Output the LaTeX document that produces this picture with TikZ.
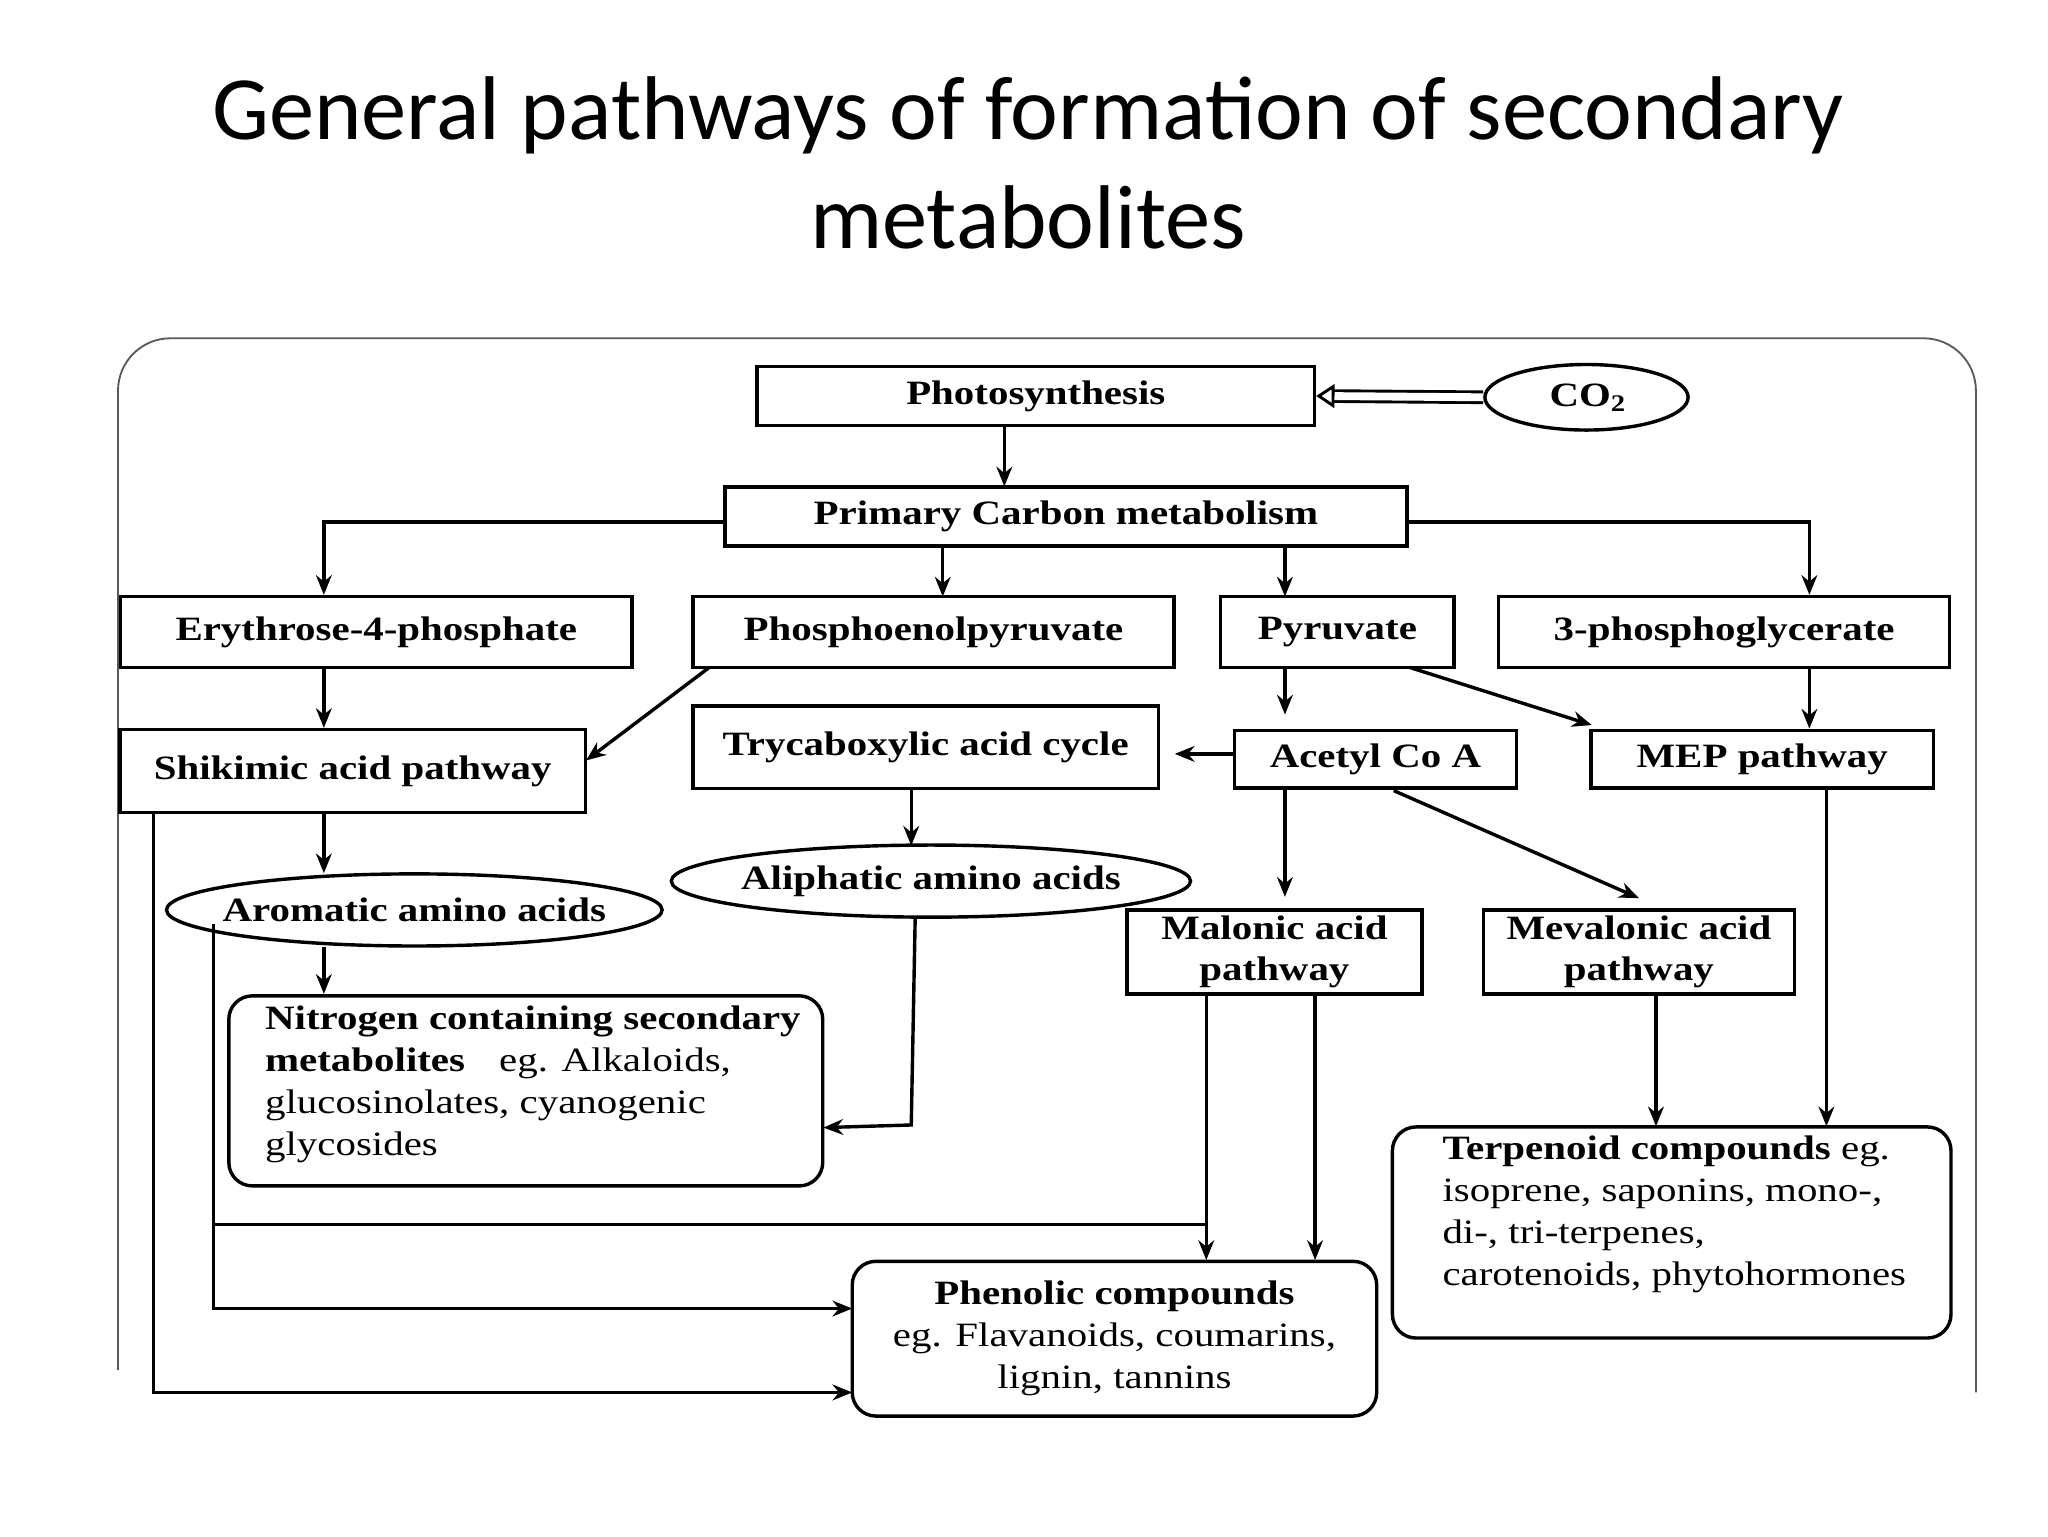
\documentclass[tikz,border=0pt]{standalone}
\usepackage{fontspec}
\setmainfont{Liberation Serif}[FakeStretch=1.2]
\newfontfamily\titlefont{Carlito}
\usetikzlibrary{arrows.meta,shapes.geometric}
\begin{document}
\begin{tikzpicture}[x=1pt,y=-1pt,
  every node/.style={font=\fontsize{26}{29}\selectfont\bfseries},
  bx/.style={draw,line width=2.6pt,inner sep=0pt},
  rbx/.style={draw,line width=2.6pt,rounded corners=18pt,inner sep=0pt},
  el/.style={draw,line width=2.6pt,ellipse,inner ysep=0pt,inner xsep=-42pt},
  ar/.style={line width=2.6pt,-{Stealth[length=15pt,width=12pt]}},
  ln/.style={line width=2.6pt}]
\useasboundingbox (0,0) rectangle (1562,1172);
\node[font=\titlefont\fontsize{69}{83}\selectfont,align=center] (title) at (784,124) {General pathways of formation of secondary\\metabolites};
\draw[line width=1.4pt,gray!70!black,rounded corners=40pt] (90,1045) -- (90,258) -- (1507,258) -- (1507,1062);
\node[bx,minimum width=425pt,minimum height=45pt] (photo) at (790,302) {Photosynthesis};
\node[draw,line width=2.6pt,ellipse,inner sep=0pt,minimum width=155pt,minimum height=50pt] (co2) at (1210,303) {CO$_\mathbf{2}$};
\node[bx,minimum width=520pt,minimum height=45pt] (prim) at (813,394) {Primary Carbon metabolism};
\node[bx,minimum width=390pt,minimum height=54pt] (ery) at (287,482) {Erythrose-4-phosphate};
\node[bx,minimum width=367pt,minimum height=54pt] (pep) at (712,482) {Phosphoenolpyruvate};
\node[bx,minimum width=178pt,minimum height=54pt] (pyr) at (1020,482) {Pyruvate};
\node[bx,minimum width=344pt,minimum height=54pt] (pg) at (1315,482) {3-phosphoglycerate};
\node[bx,minimum width=355pt,minimum height=63pt] (shik) at (269,588) {Shikimic acid pathway};
\node[bx,minimum width=355pt,minimum height=63pt] (tca) at (706,570) {Trycaboxylic acid cycle};
\node[bx,minimum width=215pt,minimum height=44pt] (acet) at (1049,579) {Acetyl Co A};
\node[bx,minimum width=261pt,minimum height=44pt] (mep) at (1344,579) {MEP pathway};
\node[el,minimum width=378pt,minimum height=55pt] (arom) at (316,694) {Aromatic amino acids};
\node[el,minimum width=396pt,minimum height=55pt] (alip) at (710,672) {Aliphatic amino acids};
\node[bx,minimum width=225pt,minimum height=64pt,align=center,font=\fontsize{26}{31}\selectfont\bfseries] (mal) at (972,726) {Malonic acid\\pathway};
\node[bx,minimum width=237pt,minimum height=64pt,align=center,font=\fontsize{26}{31}\selectfont\bfseries] (mev) at (1250,726) {Mevalonic acid\\pathway};
\node[rbx,minimum width=453pt,minimum height=145pt] (nit) at (401,832) {};
\node[anchor=north west,align=left,font=\fontsize{26}{32}\selectfont,inner sep=0pt] (nitt) at (202,767) {\textbf{Nitrogen containing secondary}\\\textbf{metabolites}\quad eg. Alkaloids,\\glucosinolates, cyanogenic\\glycosides};
\node[rbx,minimum width=426pt,minimum height=161pt] (ter) at (1275,940) {};
\node[anchor=north west,align=left,font=\fontsize{26}{32}\selectfont,inner sep=0pt] (tert) at (1100,866) {\textbf{Terpenoid compounds} eg.\\isoprene, saponins, mono-,\\di-, tri-terpenes,\\carotenoids, phytohormones};
\node[rbx,minimum width=400pt,minimum height=118pt,align=center,font=\fontsize{26}{32}\selectfont] (phen) at (850,1021) {\textbf{Phenolic compounds}\\eg. Flavanoids, coumarins,\\lignin, tannins};
% arrows
\draw[line width=2.2pt,double distance=6pt,-{Triangle[open,length=14pt,width=18pt]}] (co2.west) -- (photo.east);
\draw[ar] (766,324) -- (766,371);
\draw[ar] (prim.west |- 0,398) -- (247,398) -- (ery.north -| 247,0);
\draw[ar] (719,416) -- (719,455);
\draw[ar] (980,416) -- (980,455);
\draw[ar] (prim.east |- 0,398) -- (1380,398) -- (pg.north -| 1380,0);
\draw[ar] (247,509) -- (shik.north -| 247,0);
\draw[ar] (541,509) -- (447,580);
\draw[ar] (980,509) -- (980,545);
\draw[ar] (1075,509) -- (1214,553);
\draw[ar] (1380,509) -- (mep.north -| 1380,0);
\draw[ar] (acet.west |- 0,575) -- (896,575);
\draw[ar] (695,601) -- (695,645);
\draw[ar] (247,620) -- (247,666);
\draw[ar] (247,722) -- (247,758);
\draw[ar] (698,700) -- (695,858) -- (628,860);
\draw[ar] (980,601) -- (980,684);
\draw[ar] (1063,603) -- (1250,685);
\draw[ar] (1263,758) -- (1263,859);
\draw[ar] (1393,601) -- (1393,859);
\draw[ar] (920,758) -- (920,961);
\draw[ar] (1003,758) -- (1003,961);
\draw[ln] (163,934) -- (920,934);
\draw[ar] (163,705) -- (163,998) -- (650,998);
\draw[ar] (117,620) -- (117,1062) -- (650,1062);
\end{tikzpicture}
\end{document}
